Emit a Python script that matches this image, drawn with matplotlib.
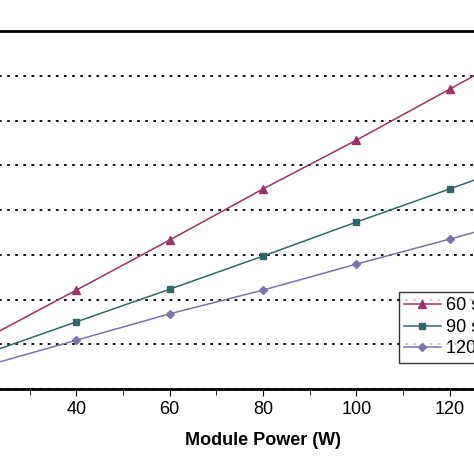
import matplotlib

matplotlib.use("Agg")
import matplotlib.pyplot as plt

plt.rcParams["font.family"] = ["Liberation Sans", "DejaVu Sans"]

power = [20, 40, 60, 80, 100, 120, 140]
s60 = [1.1, 2.21, 3.33, 4.47, 5.56, 6.70, 7.85]
s90 = [0.77, 1.50, 2.23, 2.97, 3.73, 4.47, 5.22]
s120 = [0.5, 1.09, 1.68, 2.21, 2.79, 3.35, 3.92]
x_ticks = [20, 40, 60, 80, 100, 120, 140]

fig = plt.figure(figsize=(4.74, 4.74), dpi=100)
# axes deliberately extend past the figure edges, as in the cropped reference
ax = fig.add_axes([-17 / 474, 85 / 474, 560 / 474, 358 / 474])

ax.plot(power, s60, color="#993366", marker="^", ms=6, lw=1.1, label="60 s")
ax.plot(power, s90, color="#336666", marker="s", ms=5, lw=1.1, label="90 s")
ax.plot(power, s120, color="#7f72a8", marker="D", ms=4.5, lw=1.1, label="120 s")

ax.set_xlim(20, 140)
ax.set_ylim(0, 8)
ax.set_xticks(x_ticks)
ax.set_xticks(range(20, 141, 10), minor=True)
ax.set_yticks(range(0, 9))
ax.yaxis.grid(True, color="black", linestyle=(0, (1.5, 3)), lw=1.3)
ax.tick_params(axis="x", labelsize=13, direction="out", length=5)
ax.tick_params(axis="x", which="minor", length=4)
ax.tick_params(axis="y", labelleft=False, length=0)
for s in ax.spines.values():
    s.set_linewidth(2)
ax.set_xlabel("Module Power (W)", fontsize=13, fontweight="bold", labelpad=10)

fig.legend(loc="upper left", bbox_to_anchor=(399 / 474, 1 - 292 / 474),
           fontsize=13, frameon=True, fancybox=False, edgecolor="black",
           handlelength=2.0, handletextpad=0.3, borderpad=0.3,
           labelspacing=0.25, borderaxespad=0)

fig.savefig("out.png", dpi=100)
